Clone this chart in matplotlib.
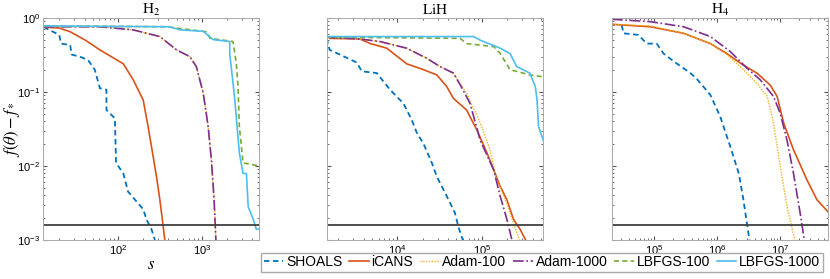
import matplotlib
matplotlib.use("Agg")
import matplotlib.pyplot as plt
from matplotlib.ticker import LogLocator, NullFormatter

plt.rcParams['font.family'] = ['Liberation Sans', 'DejaVu Sans']
plt.rcParams['mathtext.fontset'] = 'stix'

# ---- data (s, f(theta) - f*) ----
METHODS = ["SHOALS", "iCANS", "Adam-100", "Adam-1000", "LBFGS-100", "LBFGS-1000"]
TITLES = [r"$\mathrm{H}_2$", r"$\mathrm{LiH}$", r"$\mathrm{H}_4$"]
TOL = 1.6e-3

H2_SHOALS = ([13, 14.8, 20, 21, 27, 28, 35, 44, 53, 61, 73, 73, 92, 95, 116, 132, 167, 200, 219, 252, 276],
             [0.76, 0.70, 0.59, 0.45, 0.43, 0.32, 0.30, 0.27, 0.20, 0.112, 0.107, 0.057, 0.044, 0.011,
              0.0079, 0.0045, 0.0033, 0.0026, 0.0019, 0.00138, 0.001])
H2_ICANS = ([13, 20, 27, 41, 61, 116, 152, 200, 229, 263, 288, 316, 347, 362],
            [0.75, 0.73, 0.65, 0.50, 0.37, 0.24, 0.146, 0.078, 0.034, 0.0134, 0.0072, 0.0035, 0.0015, 0.001])
H2_ADAM100 = ([13, 61, 152, 316, 500, 720, 860, 1040, 1190, 1300, 1400, 1470],
              [0.76, 0.76, 0.69, 0.56, 0.37, 0.30, 0.22, 0.096, 0.034, 0.012, 0.0035, 0.001])
H2_ADAM1000 = ([13, 61, 152, 316, 500, 720, 860, 1040, 1190, 1300, 1400, 1470],
               [0.76, 0.76, 0.69, 0.56, 0.37, 0.30, 0.22, 0.096, 0.034, 0.012, 0.0035, 0.001])
H2_LBFGS100 = ([13, 380, 500, 1140, 1250, 2350, 2580, 2700, 2800, 3100, 4800],
               [0.78, 0.76, 0.73, 0.65, 0.53, 0.48, 0.24, 0.118, 0.034, 0.011, 0.010])
H2_LBFGS1000 = ([13, 414, 550, 1040, 1360, 2150, 2150, 2450, 2800, 3100, 3400, 3570, 4100, 4450, 4800],
                [0.78, 0.76, 0.69, 0.66, 0.51, 0.48, 0.33, 0.087, 0.015, 0.0079, 0.0079, 0.0028, 0.0019,
                 0.0014, 0.0014])

LIH_SHOALS = ([1456, 1580, 2090, 3300, 3800, 5700, 6600, 8200, 11800, 14800, 17000, 20400, 25600, 29300,
               38500, 48200, 52800, 59600],
              [0.53, 0.37, 0.32, 0.25, 0.19, 0.18, 0.146, 0.107, 0.070, 0.042, 0.028, 0.020, 0.011, 0.0072,
               0.0039, 0.0023, 0.0015, 0.001])
LIH_ICANS = ([1580, 3600, 4800, 7500, 12900, 20400, 29300, 38500, 46000, 66000, 87000, 115000, 138000,
              165000, 198000, 237000, 283000, 330000],
             [0.53, 0.52, 0.45, 0.39, 0.24, 0.20, 0.17, 0.118, 0.082, 0.057, 0.031, 0.015, 0.0089, 0.0053,
              0.0035, 0.0019, 0.0014, 0.001])
LIH_ADAM100 = ([1456, 3600, 6200, 12900, 22300, 32000, 46000, 66000, 96000, 125000, 150000, 198000, 237000,
                278000],
               [0.55, 0.52, 0.48, 0.39, 0.285, 0.22, 0.18, 0.096, 0.038, 0.0165, 0.0065, 0.0031, 0.0017,
                0.001])
LIH_ADAM1000 = ([1456, 3600, 6200, 12900, 22300, 32000, 46000, 57000, 72500, 96000, 138000, 165000, 198000,
                 227000],
                [0.55, 0.52, 0.48, 0.39, 0.285, 0.22, 0.18, 0.118, 0.070, 0.022, 0.0089, 0.0039, 0.0019,
                 0.001])
LIH_LBFGS100 = ([1456, 55500, 66000, 138000, 165000, 216000, 370000, 535000],
                [0.55, 0.53, 0.45, 0.41, 0.33, 0.20, 0.17, 0.16])
LIH_LBFGS1000 = ([1456, 80000, 96000, 165000, 216000, 259000, 370000, 430000, 450000, 470000, 515000, 535000],
                 [0.56, 0.56, 0.50, 0.39, 0.33, 0.22, 0.18, 0.118, 0.078, 0.034, 0.025, 0.022])

H4_SHOALS = ([30700, 32600, 56000, 76500, 110000, 141000, 203000, 375000, 475000, 780000, 1.12e6, 1.62e6,
              2.2e6, 2.6e6, 2.95e6, 3.24e6],
             [0.80, 0.62, 0.59, 0.45, 0.45, 0.33, 0.26, 0.18, 0.15, 0.091, 0.046, 0.018, 0.0079, 0.0035,
              0.0017, 0.001])
H4_ICANS = ([21500, 87000, 293000, 780000, 1.42e6, 2.6e6, 4.25e6, 6.9e6, 8.9e6, 1.13e7, 1.62e7, 2.64e7,
             3.8e7, 5.7e7],
            [0.82, 0.76, 0.62, 0.45, 0.33, 0.23, 0.18, 0.124, 0.087, 0.038, 0.0165, 0.0065, 0.0035, 0.0024])
H4_ADAM100 = ([21500, 87000, 293000, 780000, 1.42e6, 2.6e6, 4.25e6, 6.2e6, 7.8e6, 1.0e7, 1.28e7, 1.7e7],
              [0.82, 0.78, 0.62, 0.45, 0.32, 0.20, 0.13, 0.087, 0.038, 0.0098, 0.0028, 0.001])
H4_ADAM1000 = ([21500, 87000, 293000, 780000, 1.62e6, 2.95e6, 4.8e6, 7.8e6, 1.0e7, 1.28e7, 1.62e7, 2.1e7,
                2.4e7],
               [0.96, 0.89, 0.76, 0.56, 0.35, 0.21, 0.146, 0.087, 0.051, 0.022, 0.0079, 0.0021, 0.001])

PANELS = [
    [H2_SHOALS, H2_ICANS, H2_ADAM100, H2_ADAM1000, H2_LBFGS100, H2_LBFGS1000],
    [LIH_SHOALS, LIH_ICANS, LIH_ADAM100, LIH_ADAM1000, LIH_LBFGS100, LIH_LBFGS1000],
    [H4_SHOALS, H4_ICANS, H4_ADAM100, H4_ADAM1000, None, None],
]
XLIMS = [(12.8, 4800), (1470, 5.3e5), (21500, 5.7e7)]

# MATLAB default colour order and line styles
COLORS = ["#0072BD", "#D95319", "#EDB120", "#7E2F8E", "#77AC30", "#4DBEEE"]
STYLES = [(0, (3, 2)), "-", (0, (1, 1)), "-.", (0, (3, 2)), "-"]
WIDTHS = [1.3, 1.2, 1.0, 1.2, 1.2, 1.2]

fig = plt.figure(figsize=(8.3, 2.79), dpi=100)
lefts = [43 / 830, 327 / 830, 612 / 830]
handles = []
for k, left in enumerate(lefts):
    ax = fig.add_axes([left, 0.140, 216 / 830, 0.7957])
    for j, curve in enumerate(PANELS[k]):
        if curve is None:
            continue
        ln, = ax.plot(curve[0], curve[1], color=COLORS[j], ls=STYLES[j], lw=WIDTHS[j], label=METHODS[j])
        if k == 0:
            handles.append(ln)
    ax.axhline(TOL, color="#404040", lw=1.3)
    ax.set_xscale("log")
    ax.set_yscale("log")
    ax.set_xlim(*XLIMS[k])
    ax.set_ylim(1e-3, 1)
    ax.set_yticks([1e-3, 1e-2, 1e-1, 1])
    ax.yaxis.set_minor_locator(LogLocator(subs=range(2, 10), numticks=20))
    ax.xaxis.set_minor_locator(LogLocator(subs=range(2, 10), numticks=20))
    ax.yaxis.set_minor_formatter(NullFormatter())
    ax.xaxis.set_minor_formatter(NullFormatter())
    ax.tick_params(which="both", direction="in", top=True, right=True, labelsize=8,
                   color="#555555", pad=2)
    ax.tick_params(which="major", length=3)
    ax.tick_params(which="minor", length=1.5)
    for sp in ax.spines.values():
        sp.set_color("#aaaaaa")
        sp.set_linewidth(0.7)
    ax.set_title(TITLES[k], fontsize=11, pad=3)
    if k == 0:
        ax.set_ylabel(r"$f(\theta)-f_*$", fontsize=12)
        ax.yaxis.set_label_coords(-0.095, 0.5)
        ax.set_xlabel(r"$s$", fontsize=12, labelpad=0)
    else:
        ax.set_yticklabels([])

fig.legend(handles=handles, loc="lower right", bbox_to_anchor=(1.0, 0.0), ncol=6, fontsize=10,
           handlelength=1.4, handletextpad=0.2, columnspacing=0.5, borderpad=0.2,
           frameon=True, fancybox=False, edgecolor="#aaaaaa", framealpha=1)

fig.savefig("out.png", dpi=100)
